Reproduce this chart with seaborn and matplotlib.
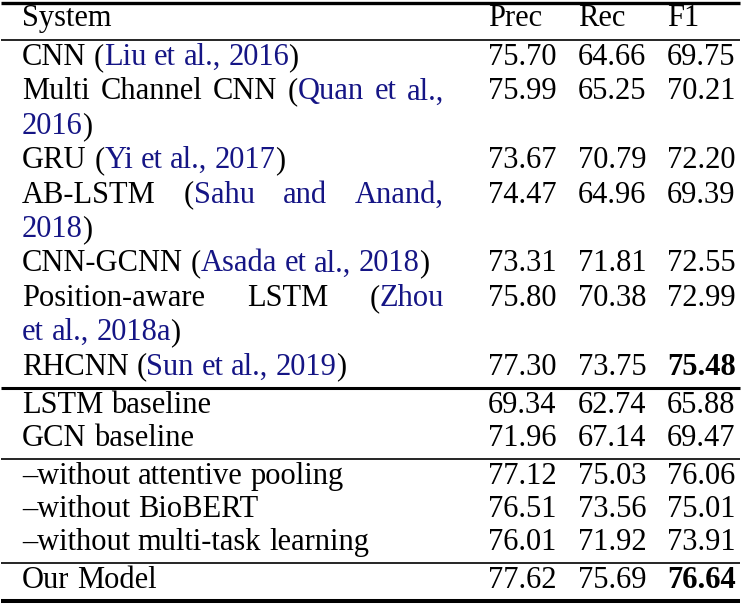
import matplotlib
matplotlib.use("Agg")
import matplotlib.pyplot as plt
import seaborn as sns

# table data
columns = ["System", "Prec", "Rec", "F1"]
systems = ["CNN", "Multi Channel CNN", "GRU", "AB-LSTM", "CNN-GCNN",
           "Position-aware LSTM", "RHCNN",
           "LSTM baseline", "GCN baseline",
           "–without attentive pooling", "–without BioBERT",
           "–without multi-task learning",
           "Our Model"]
# "|" marks where the printed cell wraps onto the next line
citations = ["Liu et al., 2016", "Quan et al.,|2016", "Yi et al., 2017",
             "Sahu and Anand,|2018", "Asada et al., 2018", "Zhou|et al., 2018a",
             "Sun et al., 2019", "", "", "", "", "", ""]
prec = [75.70, 75.99, 73.67, 74.47, 73.31, 75.80, 77.30,
        69.34, 71.96, 77.12, 76.51, 76.01, 77.62]
rec = [64.66, 65.25, 70.79, 64.96, 71.81, 70.38, 73.75,
       62.74, 67.14, 75.03, 73.56, 71.92, 75.69]
f1 = [69.75, 70.21, 72.20, 69.39, 72.55, 72.99, 75.48,
      65.88, 69.47, 76.06, 75.01, 73.91, 76.64]
groups = [0, 0, 0, 0, 0, 0, 0, 1, 1, 2, 2, 2, 3]

sns.set_theme(style="white")
plt.rcParams['font.family'] = ['Liberation Serif', 'DejaVu Serif']
plt.rcParams['text.color'] = 'black'

INK = "black"
CITE = "#151585"
FS = 22
X_SYS = 22
COL_RIGHT = 444
X_NUM = [488, 578, 667]
PITCH = [34.4, 33.0, 33.0, 33.0]

fig = plt.figure(figsize=(7.41, 6.06), dpi=100)
ax = fig.add_axes([0, 0, 1, 1])
ax.set_xlim(0, 741)
ax.set_ylim(606, 0)
ax.axis("off")
renderer = fig.canvas.get_renderer()


def width_of(s, weight="normal"):
    if not s:
        return 0.0
    t = ax.text(0, 0, s, fontsize=FS, fontweight=weight)
    w = t.get_window_extent(renderer).width
    t.remove()
    return w


space = width_of("n n") - 2 * width_of("n")


def draw_line(words, x0, y, right=None):
    widths = [width_of("".join(s for s, c in word)) for word in words]
    gap = space
    if right is not None and len(words) > 1:
        gap = (right - x0 - sum(widths)) / (len(words) - 1)
    x = x0
    for word, w in zip(words, widths):
        prefix = ""
        for s, c in word:
            # offset = advance of what precedes this piece inside the word
            off = width_of(prefix + s) - width_of(s) if prefix else 0.0
            if s == ")":
                off -= 1.0  # closing paren sits close to the year
            ax.text(x + off, y, s, color=c, fontsize=FS,
                    ha="left", va="baseline")
            prefix += s
        x += w + gap


def row_lines(name, cite):
    words = [[(w, INK)] for w in name.split()]
    if cite:
        cw = []
        for k, part in enumerate(cite.split("|")):
            if k:
                cw.append(None)
            cw += part.split()
        idx = [i for i, w in enumerate(cw) if w is not None]
        for i, w in enumerate(cw):
            if w is None:
                words.append(None)
                continue
            seg = [(w, CITE)]
            if i == idx[0]:
                seg.insert(0, ("(", INK))
            if i == idx[-1]:
                seg.append((")", INK))
            words.append(seg)
    lines = [[]]
    for w in words:
        if w is None:
            lines.append([])
        else:
            lines[-1].append(w)
    return lines


# best prior-work F1 and best overall F1 are bold
prior = [i for i in range(len(f1)) if groups[i] == 0]
bold = {max(prior, key=lambda i: f1[i]), max(range(len(f1)), key=lambda i: f1[i])}

# header
ax.hlines(3, 1, 740, color=INK, lw=2.4)
ax.text(X_SYS, 26, columns[0], fontsize=FS, color=INK, ha="left", va="baseline")
for x, c in zip(X_NUM, columns[1:]):
    ax.text(x, 26, c, fontsize=FS, color=INK, ha="left", va="baseline")
rule_y = 40
ax.hlines(rule_y, 1, 740, color=INK, lw=1.2)

rule_w = [2.2, 1.2, 1.2, 2.9]
for g in range(4):
    y = rule_y + 25
    first = True
    for i in [k for k in range(len(systems)) if groups[k] == g]:
        lines = row_lines(systems[i], citations[i])
        for li, line in enumerate(lines):
            if not first:
                y += PITCH[g]
            first = False
            draw_line(line, X_SYS, y, COL_RIGHT if li < len(lines) - 1 else None)
            if li == 0:
                vals = [prec[i], rec[i], f1[i]]
                for j, (x, v) in enumerate(zip(X_NUM, vals)):
                    wt = "bold" if (j == 2 and i in bold) else "normal"
                    ax.text(x, y, f"{v:.2f}", fontsize=FS, fontweight=wt,
                            ha="left", va="baseline", color=INK)
    rule_y = y + 13
    ax.hlines(rule_y, 1, 740, color=INK, lw=rule_w[g])

fig.savefig("out.png", dpi=100)
